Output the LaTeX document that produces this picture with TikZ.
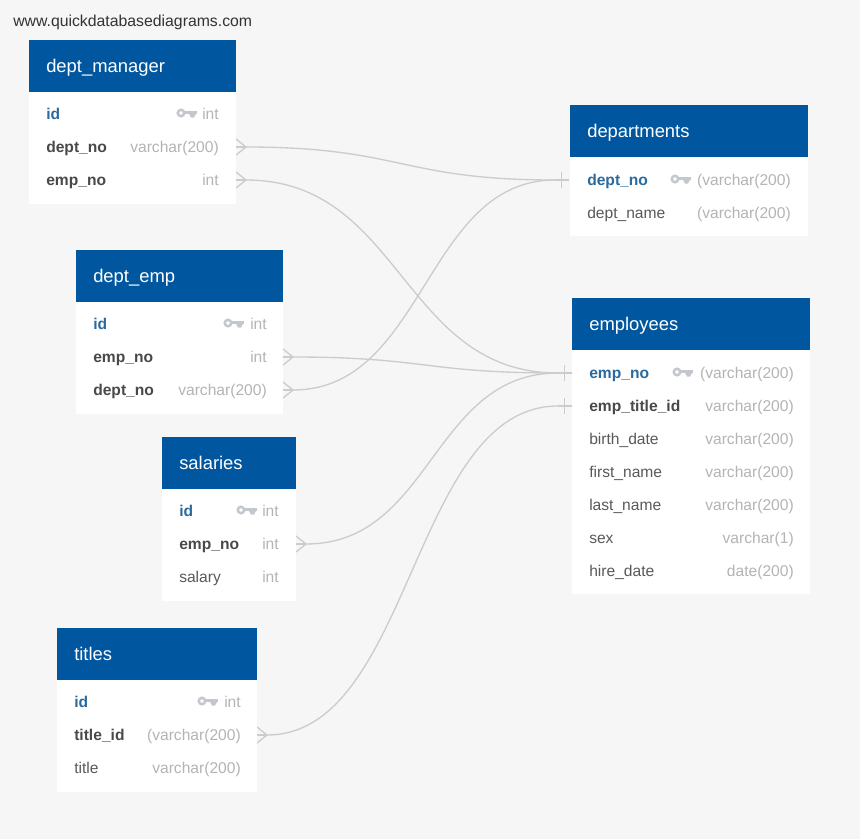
\documentclass[tikz,border=0pt]{standalone}
\usepackage{fontspec}
\setmainfont{Liberation Sans}
\definecolor{bgc}{HTML}{F6F6F6}
\definecolor{headc}{HTML}{01579F}
\definecolor{pkc}{HTML}{2B6A9E}
\definecolor{fkc}{HTML}{48494B}
\definecolor{plainc}{HTML}{58595B}
\definecolor{typec}{HTML}{B4B4B6}
\definecolor{keyc}{HTML}{C4C8CE}
\definecolor{linkc}{HTML}{CCCCCC}
\tikzset{
 x=0.75pt,y=-0.75pt,
 bodybox/.style={fill=white,draw=none,anchor=north west,inner sep=0pt,outer sep=0pt},
 headbox/.style={fill=headc,draw=none,anchor=north west,inner sep=0pt,outer sep=0pt,minimum height=39pt},
 headtxt/.style={text=white,anchor=base west,inner sep=0pt,font=\fontsize{13.8}{16}\selectfont},
 pktxt/.style={text=pkc,anchor=base west,inner sep=0pt,font=\fontsize{11.7}{14}\selectfont\bfseries},
 fktxt/.style={text=fkc,anchor=base west,inner sep=0pt,font=\fontsize{11.7}{14}\selectfont\bfseries},
 plaintxt/.style={text=plainc,anchor=base west,inner sep=0pt,font=\fontsize{11.7}{14}\selectfont},
 typetxt/.style={text=typec,anchor=base east,inner sep=0pt,font=\fontsize{11.7}{14}\selectfont},
 link/.style={draw=linkc,line width=1pt},
}
% \tablebox{name}{x}{y}{w}{total height}{title}
\newcommand{\tablebox}[6]{%
 \node[bodybox,minimum width=#4*0.75pt,minimum height=#5*0.75pt] (#1) at (#2,#3) {};
 \node[headbox,minimum width=#4*0.75pt] (#1head) at (#2,#3) {};
 \node[headtxt] (#1title) at (#2+17,#3+32) {#6};
}
% \field{node}{x}{baseline y}{style}{text}{right x}{type}
\newcommand{\field}[7]{%
 \node[#4] (#1) at (#2,#3+5) {#5};
 \node[typetxt] (#1type) at (#6,#3+5) {#7};
}
% \keyicon{x}{y}
\newcommand{\keyicon}[2]{%
 \draw[keyc,line width=1.9pt] (#1+4,#2-1) circle (3.2);
 \fill[keyc] (#1+8,#2-2.6) rectangle (#1+20,#2+0.4);
 \fill[keyc] (#1+11.5,#2-1) -- (#1+19.5,#2-1) -- (#1+17,#2+3.5) -- (#1+14,#2+3.5) -- cycle;
}
% crow foot at the right edge of a table (x = table edge)
\newcommand{\crow}[3]{%
 \coordinate (#1) at (#2+9,#3);
 \draw[link] (#2-1,#3-8) -- (#2+9,#3) -- (#2-1,#3+8);
 \draw[link] (#2-1,#3) -- (#1);
}
% single tick and stub at the left edge of a table
\newcommand{\tick}[3]{%
 \coordinate (#1) at (#2-14,#3);
 \draw[link,line width=1.3pt] (#2-7.5,#3-8) -- (#2-7.5,#3+8);
 \draw[link] (#1) -- (#2,#3);
}
\begin{document}
\begin{tikzpicture}
\useasboundingbox (0,0) rectangle (860,839);
\fill[bgc] (0,0) rectangle (860,839);

% connectors underneath
\crow{a1}{237}{147}\crow{a2}{237}{180}
\crow{b1}{284}{357}\crow{b2}{284}{390}
\crow{c1}{297}{544}
\crow{d1}{258}{735}
\tick{e1}{569}{180}
\tick{f1}{572}{373}\tick{f2}{572}{406}

\draw[link] (a1) .. controls (401,147) and (401,180) .. (e1);
\draw[link] (b2) .. controls (425,390) and (425,180) .. (e1);
\draw[link] (a2) .. controls (402,180) and (402,373) .. (f1);
\draw[link] (b1) .. controls (425,357) and (425,373) .. (f1);
\draw[link] (c1) .. controls (432,544) and (432,373) .. (f1);
\draw[link] (d1) .. controls (412,735) and (412,406) .. (f2);

\node[anchor=base west,inner sep=0pt,text=black!80,font=\fontsize{11.85}{14}\selectfont] (wm) at (13,26) {www.quickdatabasediagrams.com};

% dept_manager
\tablebox{dm}{29}{40}{207}{164}{dept\_manager}
\field{dmid}{46}{114}{pktxt}{id}{219}{int}
\field{dmdn}{46}{147}{fktxt}{dept\_no}{219}{varchar(200)}
\field{dmen}{46}{180}{fktxt}{emp\_no}{219}{int}
\keyicon{177}{114}

% dept_emp
\tablebox{de}{76}{250}{207}{164}{dept\_emp}
\field{deid}{93}{324}{pktxt}{id}{267}{int}
\field{deen}{93}{357}{fktxt}{emp\_no}{267}{int}
\field{dedn}{93}{390}{fktxt}{dept\_no}{267}{varchar(200)}
\keyicon{224}{324}

% salaries
\tablebox{sa}{162}{437}{134}{164}{salaries}
\field{said}{179}{511}{pktxt}{id}{279}{int}
\field{saen}{179}{544}{fktxt}{emp\_no}{279}{int}
\field{sasa}{179}{577}{plaintxt}{salary}{279}{int}
\keyicon{237}{511}

% titles
\tablebox{ti}{57}{628}{200}{164}{titles}
\field{tiid}{74}{702}{pktxt}{id}{241}{int}
\field{titi}{74}{735}{fktxt}{title\_id}{241}{(varchar(200)}
\field{titt}{74}{768}{plaintxt}{title}{241}{varchar(200)}
\keyicon{198}{702}

% departments
\tablebox{dp}{570}{105}{238}{131}{departments}
\field{dpdn}{587}{180}{pktxt}{dept\_no}{791}{(varchar(200)}
\field{dpna}{587}{213}{plaintxt}{dept\_name}{791}{(varchar(200)}
\keyicon{671}{180}

% employees
\tablebox{em}{572}{298}{238}{296}{employees}
\field{emen}{589}{373}{pktxt}{emp\_no}{794}{(varchar(200)}
\field{emti}{589}{406}{fktxt}{emp\_title\_id}{794}{varchar(200)}
\field{embd}{589}{439}{plaintxt}{birth\_date}{794}{varchar(200)}
\field{emfn}{589}{472}{plaintxt}{first\_name}{794}{varchar(200)}
\field{emln}{589}{505}{plaintxt}{last\_name}{794}{varchar(200)}
\field{emsx}{589}{538}{plaintxt}{sex}{794}{varchar(1)}
\field{emhd}{589}{571}{plaintxt}{hire\_date}{794}{date(200)}
\keyicon{673}{373}
\end{tikzpicture}
\end{document}
